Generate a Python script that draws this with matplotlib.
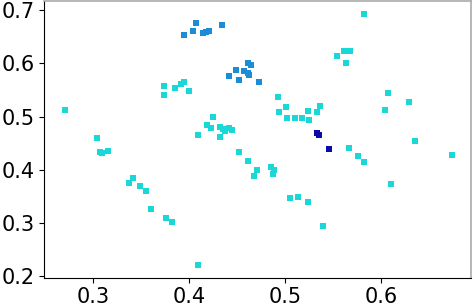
import matplotlib

matplotlib.use("Agg")
import matplotlib.pyplot as plt


# cyan points (bulk of the data)
cyan_x = [
    0.2715, 0.3048, 0.3076, 0.3097, 0.3156, 0.3377, 0.3419, 0.3492, 0.3554, 0.3609,
    0.3762, 0.3827, 0.4095, 0.3738, 0.3738, 0.3859, 0.3921, 0.3949, 0.3998,
    0.4251, 0.4185, 0.4227, 0.4095, 0.4323, 0.4351, 0.4378, 0.4414, 0.4445, 0.4323,
    0.4524, 0.4614, 0.4674, 0.4711, 0.4850, 0.4881, 0.4877,
    0.5051, 0.5134, 0.5241, 0.5394,
    0.4923, 0.5013, 0.4937, 0.5023, 0.5106, 0.5176, 0.5241, 0.5248, 0.5335, 0.5360,
    0.5667, 0.5755, 0.5817, 0.6098, 0.6347, 0.6738,
    0.5817, 0.5543, 0.5615, 0.5647, 0.5675, 0.5630,
    0.6067, 0.6291, 0.6039,
]
cyan_y = [
    0.5118, 0.4599, 0.4342, 0.4311, 0.4360, 0.3748, 0.3848, 0.3698, 0.3604, 0.3266,
    0.3103, 0.3017, 0.2216, 0.5580, 0.5410, 0.5531, 0.5606, 0.5650, 0.5475,
    0.4992, 0.4842, 0.4780, 0.4660, 0.4799, 0.4762, 0.4737, 0.4793, 0.4750, 0.4623,
    0.4330, 0.4167, 0.3891, 0.3998, 0.4060, 0.3998, 0.3917,
    0.3478, 0.3497, 0.3392, 0.2953,
    0.5362, 0.5186, 0.5086, 0.4980, 0.4980, 0.4968, 0.5105, 0.4936, 0.5086, 0.5199,
    0.4417, 0.4261, 0.4148, 0.3730, 0.4542, 0.4280,
    0.6931, 0.6131, 0.6231, 0.6236, 0.6236, 0.6000,
    0.5448, 0.5280, 0.5124,
]

# blue points (upper clusters)
blue_x = [
    0.3952, 0.4046, 0.4071, 0.4150, 0.4175, 0.4209, 0.4340,
    0.4414, 0.4487, 0.4518, 0.4576, 0.4611, 0.4646, 0.4618, 0.4625, 0.4729,
]
blue_y = [
    0.6537, 0.6600, 0.6750, 0.6574, 0.6580, 0.6600, 0.6713,
    0.5762, 0.5874, 0.5687, 0.5856, 0.6000, 0.5974, 0.5812, 0.5775, 0.5644,
]

# dark blue points
navy_x = [0.5335, 0.5356, 0.5460]
navy_y = [0.4698, 0.4660, 0.4398]


def main() -> None:
    fig = plt.figure(figsize=(4.74, 3.05), dpi=100)
    ax = fig.add_axes([0.0935, 0.0895, 0.9002, 0.9072])

    ax.scatter(cyan_x, cyan_y, marker="s", s=14, color="#1ad8d8", linewidths=0)
    ax.scatter(blue_x, blue_y, marker="s", s=14, color="#1a8cd8", linewidths=0)
    ax.scatter(navy_x, navy_y, marker="s", s=14, color="#0a0aa8", linewidths=0)

    ax.set_xlim(0.2497, 0.6933)
    ax.set_ylim(0.1977, 0.7169)
    ax.set_xticks([0.3, 0.4, 0.5, 0.6])
    ax.set_yticks([0.2, 0.3, 0.4, 0.5, 0.6, 0.7])
    ax.tick_params(labelsize=15)
    for side in ("top", "right"):
        ax.spines[side].set_color("#aaaaaa")
        ax.spines[side].set_linewidth(1.2)

    fig.savefig("out.png", dpi=100)
    plt.close(fig)


if __name__ == "__main__":
    main()
